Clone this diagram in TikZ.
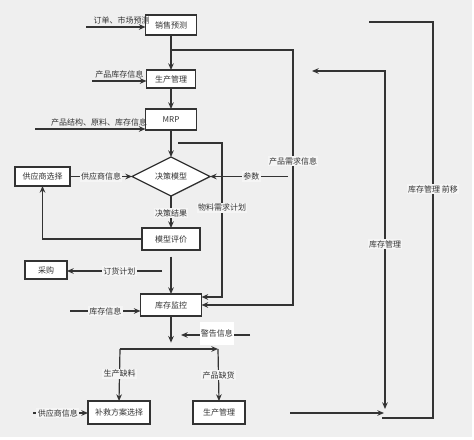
\documentclass[tikz,border=0pt]{standalone}
\usepackage{fontspec}
\newfontfamily\cjk{Noto Sans CJK SC}
\usetikzlibrary{positioning}
\usetikzlibrary{arrows.meta}
\usetikzlibrary{shapes.geometric}
\definecolor{canvas}{HTML}{EFEFEF}
\definecolor{labelbg}{HTML}{F5F5F5}
\definecolor{ink}{HTML}{333333}
\tikzset{
  flowbox/.style 2 args= {
    rectangle,
    draw = ink,
    fill = white,
    line width = 1pt,
    inner sep = 0pt,
    outer sep = 0pt,
    minimum width = #1,
    minimum height = #2
  },
  decision/.style= {
    diamond,
    aspect = 2,
    draw = ink,
    fill = white,
    line width = 1pt,
    inner sep = 0pt,
    outer sep = 0pt,
    minimum width = 58.5pt,
    minimum height = 29.25pt
  },
  flowline/.style= {
    draw = ink,
    line width = 0.9pt
  },
  flowarrow/.style= {
    flowline,
    -{Stealth[length=5pt,width=4.2pt]}
  },
  edgelabel/.style= {
    fill = labelbg,
    inner sep = 1pt
  },
  warnlabel/.style= {
    fill = white,
    inner xsep = 1pt,
    minimum height = 17pt
  }
}

\begin{document}
\begin{tikzpicture}[x=0.75pt,y=-0.75pt,font=\cjk\fontsize{6pt}{7pt}\selectfont,text=ink]

  \useasboundingbox (0,0) rectangle (474,439);
  \fill[canvas] (0,0) rectangle (472,437);

  % main chain
  \node[flowbox={38.25pt}{15pt}] (xs) at (171,25) {销售预测};
  \node[flowbox={36.75pt}{13.5pt},below=26.25pt of xs] (sc) {生产管理};
  \node[flowbox={38.25pt}{15.75pt},below=15.75pt of sc] (mrp) {MRP};
  \node[decision,below=20.25pt of mrp] (jc) {决策模型};
  \node[flowbox={43.5pt}{16.5pt},below=24pt of jc] (mp) {模型评价};
  \node[flowbox={45.75pt}{16.5pt},below=33pt of mp] (kc) {库存监控};

  % side boxes
  \node[flowbox={41.25pt}{14.25pt},left=46.5pt of jc] (gx) {供应商选择};
  \node[flowbox={31.5pt}{13.5pt}] (cg) at (46,270) {采购};
  \node[flowbox={46.5pt}{17.25pt}] (bj) at (119,412.5) {补救方案选择};
  \node[flowbox={39pt}{17.25pt}] (sg) at (219,412.5) {生产管理};

  % free ends
  \coordinate (in1) at (86,27);
  \coordinate (in2) at (92,81);
  \coordinate (in3) at (35,129);
  \coordinate (b1) at (171,50);
  \coordinate (m1) at (178,143);
  \coordinate (p1) at (288,176.5);
  \coordinate (o1) at (162,271);
  \coordinate[below=5pt of mp] (k1);
  \coordinate (in4) at (70,311);
  \coordinate[below=20pt of kc] (fk);
  \coordinate (fl) at (120,349);
  \coordinate (fr) at (218,349);
  \coordinate (g1) at (250,335);
  \coordinate (g2) at (181,335);
  \coordinate (in5) at (33,413);
  \coordinate (n1) at (290,413);
  \coordinate (n2) at (384,413);
  \coordinate (kg1) at (312,71);
  \coordinate (kg2) at (385,409);
  \coordinate (qy1) at (369,22);
  \coordinate (qy2) at (433,418);
  \coordinate (qy3) at (382,418);

  % inputs
  \draw[flowarrow] (in1) -- node[above=-1.5pt,pos=0.6] {订单、市场预测} (in1 -| xs.west);
  \draw[flowarrow] (in2) -- node[above=-1.5pt,pos=0.5] {产品库存信息} (in2 -| sc.west);
  \draw[flowarrow] (in3) -- node[above=-1.5pt,pos=0.58] {产品结构、原料、库存信息} (in3 -| mrp.west);

  % chain arrows
  \draw[flowarrow] (xs.south) -- (sc.north);
  \draw[flowarrow] (sc.south) -- (mrp.north);
  \draw[flowarrow] (mrp.south) -- (jc.north);
  \draw[flowarrow] (jc.south) -- node[edgelabel,pos=0.53] {决策结果} (mp.north);
  \draw[flowarrow] (k1) -- (kc.north);

  % feedback to stock control
  \draw[flowarrow] (b1) -- (293,50) |- node[edgelabel,pos=0.218] {产品需求信息} (kc.east);
  \draw[flowarrow] (m1) -- (222,143) |- node[edgelabel,pos=0.21] {物料需求计划} ([yshift=6pt]kc.east);
  \draw[flowarrow] (p1) -- node[edgelabel,pos=0.47] {参数} (jc.east);

  % supplier loop
  \draw[flowarrow] (gx.east) -- node[edgelabel] {供应商信息} (jc.west);
  \draw[flowarrow] (mp.west) -| (gx.south);
  \draw[flowarrow] (o1) -- node[edgelabel,pos=0.45] {订货计划} (o1 -| cg.east);
  \draw[flowarrow] (in4) -- node[edgelabel] {库存信息} (in4 -| kc.west);

  % shortage branch
  \draw[flowarrow] (kc.south) -- (fk);
  \draw[flowarrow] (fl) -- (fr);
  \draw[flowarrow] (fl) -- node[edgelabel,pos=0.48] {生产缺料} (bj.north);
  \draw[flowarrow] (fr) -- node[edgelabel,pos=0.5] {产品缺货} (sg.north);
  \draw[flowarrow] (g1) -- node[warnlabel,pos=0.48,yshift=1pt] {警告信息} (g2);
  \draw[flowarrow] (in5) -- node[edgelabel,pos=0.45] {供应商信息} (in5 -| bj.west);

  % stock management
  \draw[flowarrow] (n1) -- (n2);
  \draw[flowline,{Stealth[length=5pt,width=4.2pt]}-{Stealth[length=5pt,width=4.2pt]}] (kg1) -| node[edgelabel,pos=0.756] {库存管理} (kg2);
  \draw[flowline] (qy1) -| node[edgelabel,pos=0.711] {库存管理 前移} (qy2) -- (qy3);

\end{tikzpicture}
\end{document}
